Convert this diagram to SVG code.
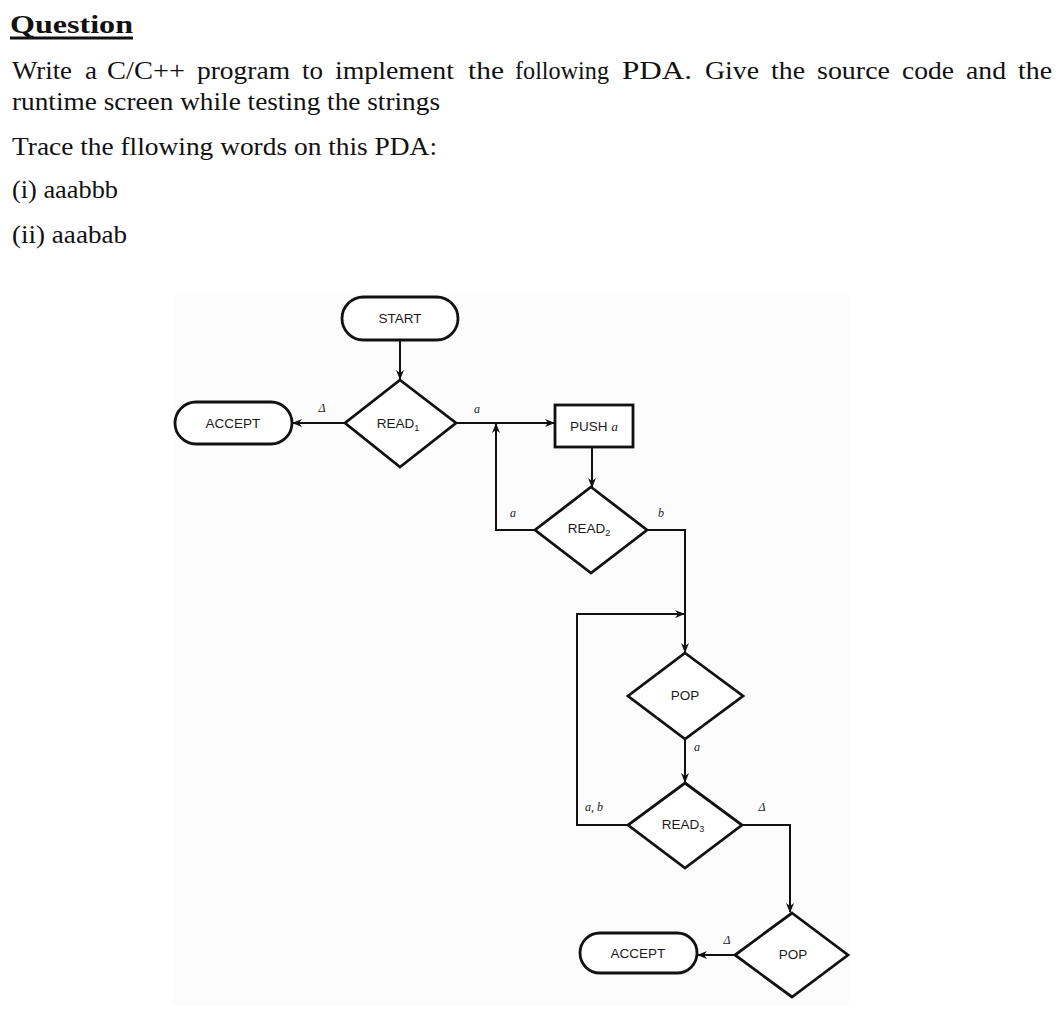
<svg xmlns="http://www.w3.org/2000/svg" width="1056" height="1018" viewBox="0 0 1056 1018">
<style>
.t{font-family:"Liberation Serif","Times New Roman",serif;fill:#111;font-size:26px}
.n{fill:#fff;stroke:#111;stroke-width:2.8}
.lbl{font-family:"Liberation Sans",Arial,sans-serif;font-size:13.5px;fill:#1a1a1a;text-anchor:middle}
.e{fill:none;stroke:#111;stroke-width:2}
.it{font-family:"Liberation Serif","Times New Roman",serif;font-style:italic;font-size:12px;fill:#222;text-anchor:middle}
</style>
<defs>
<marker id="ah" viewBox="0 0 10 10" refX="9" refY="5" markerWidth="10" markerHeight="10" markerUnits="userSpaceOnUse" orient="auto">
<path d="M0,1 L10,5 L0,9 L3,5 Z" fill="#111"/>
</marker>
</defs>
<rect width="1056" height="1018" fill="#fff"/>
<rect x="173" y="295" width="677" height="710" fill="#fcfcfc"/>
<g id="text">
<text class="t" x="10" y="33" font-size="30" font-weight="bold" textLength="123" lengthAdjust="spacingAndGlyphs">Question</text>
<line x1="10" y1="38" x2="133" y2="38" stroke="#111" stroke-width="3"/>
<g id="line1">
<text class="t" x="12" y="79" textLength="60" lengthAdjust="spacingAndGlyphs">Write</text>
<text class="t" x="85" y="79" textLength="12" lengthAdjust="spacingAndGlyphs">a</text>
<text class="t" x="107" y="79" textLength="78" lengthAdjust="spacingAndGlyphs">C/C++</text>
<text class="t" x="197" y="79" textLength="93" lengthAdjust="spacingAndGlyphs">program</text>
<text class="t" x="302" y="79" textLength="21" lengthAdjust="spacingAndGlyphs">to</text>
<text class="t" x="335" y="79" textLength="119" lengthAdjust="spacingAndGlyphs">implement</text>
<text class="t" x="468" y="79" textLength="36" lengthAdjust="spacingAndGlyphs">the</text>
<text class="t" x="515" y="79" textLength="94" lengthAdjust="spacingAndGlyphs">following</text>
<text class="t" x="622" y="79" textLength="70" lengthAdjust="spacingAndGlyphs">PDA.</text>
<text class="t" x="705" y="79" textLength="54" lengthAdjust="spacingAndGlyphs">Give</text>
<text class="t" x="771" y="79" textLength="34" lengthAdjust="spacingAndGlyphs">the</text>
<text class="t" x="817" y="79" textLength="73" lengthAdjust="spacingAndGlyphs">source</text>
<text class="t" x="902" y="79" textLength="52" lengthAdjust="spacingAndGlyphs">code</text>
<text class="t" x="966" y="79" textLength="40" lengthAdjust="spacingAndGlyphs">and</text>
<text class="t" x="1018" y="79" textLength="34" lengthAdjust="spacingAndGlyphs">the</text>
</g>
<text class="t" x="12" y="110" textLength="428" lengthAdjust="spacingAndGlyphs">runtime screen while testing the strings</text>
<text class="t" x="12" y="155" textLength="425" lengthAdjust="spacingAndGlyphs">Trace the fllowing words on this PDA:</text>
<text class="t" x="12" y="198" textLength="106" lengthAdjust="spacingAndGlyphs">(i) aaabbb</text>
<text class="t" x="12" y="243" textLength="115" lengthAdjust="spacingAndGlyphs">(ii) aaabab</text>
</g>
<g id="connectors">
<line class="e" x1="400" y1="340" x2="400" y2="379" marker-end="url(#ah)"/>
<line class="e" x1="345" y1="423" x2="293" y2="423" marker-end="url(#ah)"/>
<line class="e" x1="456" y1="423" x2="554" y2="423" marker-end="url(#ah)"/>
<line class="e" x1="592" y1="447" x2="592" y2="487" marker-end="url(#ah)"/>
<polyline class="e" points="535,530 496,530 496,424" marker-end="url(#ah)"/>
<polyline class="e" points="647,530 685,530 685,652" marker-end="url(#ah)"/>
<polyline class="e" points="628,825 577,825 577,614 684,614" marker-end="url(#ah)"/>
<line class="e" x1="685" y1="739" x2="685" y2="782" marker-end="url(#ah)"/>
<polyline class="e" points="742,825 790,825 790,912" marker-end="url(#ah)"/>
<line class="e" x1="735" y1="955" x2="698" y2="955" marker-end="url(#ah)"/>
<text class="it" x="322" y="412">Δ</text>
<text class="it" x="477" y="413">a</text>
<text class="it" x="513" y="517">a</text>
<text class="it" x="661" y="517">b</text>
<text class="it" x="697" y="751">a</text>
<text class="it" x="594" y="811">a, b</text>
<text class="it" x="762" y="811">Δ</text>
<text class="it" x="727" y="944">Δ</text>
</g>
<g id="start"><rect class="n" x="342" y="297" width="116" height="43" rx="21.5"/><text class="lbl" x="400" y="323">START</text></g>
<g id="read1"><polygon class="n" points="400,380 456,423 400,467 345,423"/><text class="lbl" x="398" y="428">READ<tspan font-size="9" dy="3">1</tspan></text></g>
<g id="accept1"><rect class="n" x="175" y="402" width="117" height="42" rx="21"/><text class="lbl" x="233" y="428">ACCEPT</text></g>
<g id="push"><rect class="n" x="555" y="405" width="78" height="42"/><text class="lbl" x="594" y="431">PUSH <tspan font-family="Liberation Serif" font-style="italic">a</tspan></text></g>
<g id="read2"><polygon class="n" points="591,487 647,530 591,573 535,530"/><text class="lbl" x="589" y="533">READ<tspan font-size="9" dy="3">2</tspan></text></g>
<g id="pop1"><polygon class="n" points="685,653 743,696 685,739 628,696"/><text class="lbl" x="685" y="700">POP</text></g>
<g id="read3"><polygon class="n" points="685,783 742,825 685,868 628,825"/><text class="lbl" x="683" y="829">READ<tspan font-size="9" dy="3">3</tspan></text></g>
<g id="pop2"><polygon class="n" points="792,913 848,955 792,997 735,955"/><text class="lbl" x="793" y="959">POP</text></g>
<g id="accept2"><rect class="n" x="580" y="933" width="117" height="40" rx="20"/><text class="lbl" x="638" y="958">ACCEPT</text></g>
</svg>
